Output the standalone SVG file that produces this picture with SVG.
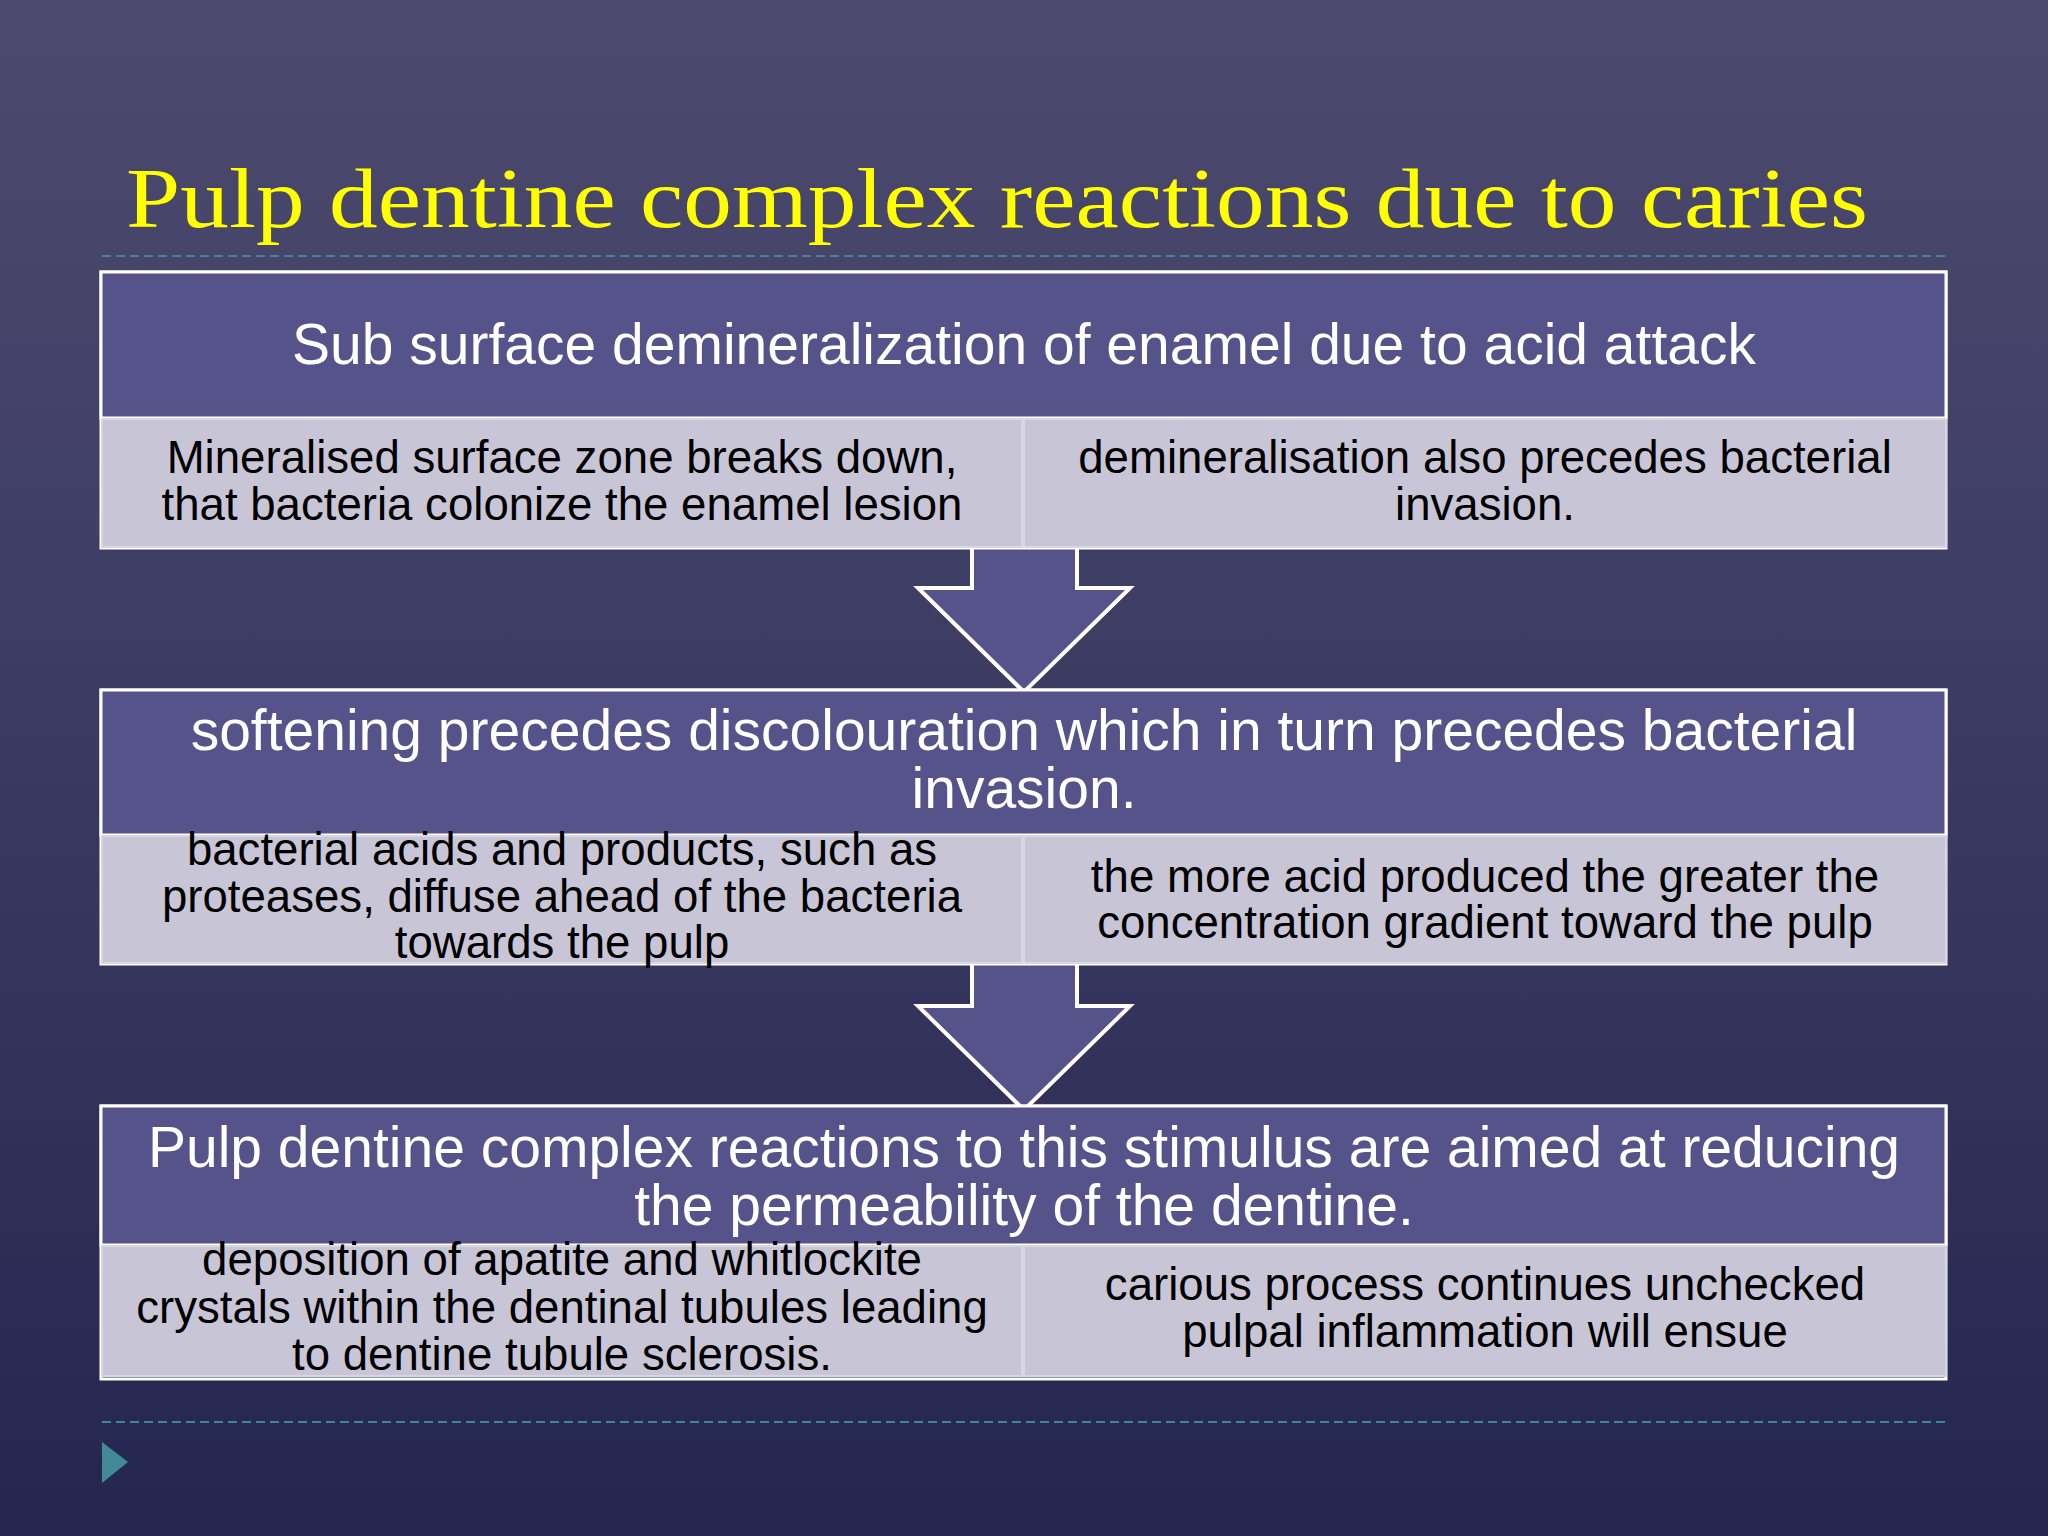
<svg xmlns="http://www.w3.org/2000/svg" width="2048" height="1536" viewBox="0 0 2048 1536">
  <defs>
    <linearGradient id="bg" x1="0" y1="0" x2="0" y2="1">
      <stop offset="0" stop-color="#4C4A6E"/>
      <stop offset="0.45" stop-color="#3C3B62"/>
      <stop offset="1" stop-color="#252650"/>
    </linearGradient>
    <style>
      .title{font-family:"Liberation Serif","Times New Roman",serif;font-size:84px;fill:#FFFF00}
      .dash{stroke:#3F8796;stroke-width:2;stroke-dasharray:9 5;fill:none}
      .outer{fill:none;stroke:#FFFFFF;stroke-width:3}
      .hdr{fill:#56528A;stroke:#FFFFFF;stroke-width:3}
      .cell{fill:#C8C6D6;stroke:#D8D6E3;stroke-width:2}
      .ht{font-family:"Liberation Sans",Arial,sans-serif;font-size:57px;fill:#FFFFFF;text-anchor:middle}
      .ct{font-family:"Liberation Sans",Arial,sans-serif;font-size:45.6px;fill:#000000;text-anchor:middle}
      .arrow{fill:#56528A;stroke:#FFFFFF;stroke-width:4;stroke-linejoin:miter}
    </style>
  </defs>
  <rect x="0" y="0" width="2048" height="1536" fill="url(#bg)"/>

  <text class="title" x="126" y="227" textLength="1742" lengthAdjust="spacingAndGlyphs">Pulp dentine complex reactions due to caries</text>
  <line class="dash" x1="102" y1="256" x2="1946" y2="256"/>
  <line class="dash" x1="102" y1="1422" x2="1946" y2="1422"/>
  <polygon points="102,1442 128,1462 102,1483" fill="#418A96"/>

  <g id="connectors">
    <polygon class="arrow" points="972,540 1077,540 1077,588 1130,588 1024,692 918,588 972,588"/>
    <polygon class="arrow" points="972,958 1077,958 1077,1006 1130,1006 1024,1110 918,1006 972,1006"/>
  </g>

  <g id="box1">
    <rect class="outer" x="101" y="272" width="1845" height="276"/>
    <rect class="hdr" x="101" y="272" width="1845" height="146"/>
    <rect class="cell" x="102" y="419" width="920" height="128"/>
    <rect class="cell" x="1024" y="419" width="922" height="128"/>
    <text class="ht" x="1024" y="364">Sub surface demineralization of enamel due to acid attack</text>
    <text class="ct" x="562" y="473">Mineralised surface zone breaks down,</text>
    <text class="ct" x="562" y="520">that bacteria colonize the enamel lesion</text>
    <text class="ct" x="1485" y="473">demineralisation also precedes bacterial</text>
    <text class="ct" x="1485" y="520">invasion.</text>
  </g>

  <g id="box2">
    <rect class="outer" x="101" y="690" width="1845" height="274"/>
    <rect class="hdr" x="101" y="690" width="1845" height="145"/>
    <rect class="cell" x="102" y="836" width="920" height="127"/>
    <rect class="cell" x="1024" y="836" width="922" height="127"/>
    <text class="ht" x="1024" y="750">softening precedes discolouration which in turn precedes bacterial</text>
    <text class="ht" x="1024" y="808">invasion.</text>
    <text class="ct" x="562" y="865">bacterial acids and products, such as</text>
    <text class="ct" x="562" y="912">proteases, diffuse ahead of the bacteria</text>
    <text class="ct" x="562" y="958">towards the pulp</text>
    <text class="ct" x="1485" y="892">the more acid produced the greater the</text>
    <text class="ct" x="1485" y="938">concentration gradient toward the pulp</text>
  </g>

  <g id="box3">
    <rect class="outer" x="101" y="1106" width="1845" height="273"/>
    <rect class="hdr" x="101" y="1106" width="1845" height="139"/>
    <rect class="cell" x="102" y="1246" width="920" height="130"/>
    <rect class="cell" x="1024" y="1246" width="922" height="130"/>
    <text class="ht" x="1024" y="1167">Pulp dentine complex reactions to this stimulus are aimed at reducing</text>
    <text class="ht" x="1024" y="1225">the permeability of the dentine.</text>
    <text class="ct" x="562" y="1275">deposition of apatite and whitlockite</text>
    <text class="ct" x="562" y="1323">crystals within the dentinal tubules leading</text>
    <text class="ct" x="562" y="1370">to dentine tubule sclerosis.</text>
    <text class="ct" x="1485" y="1300">carious process continues unchecked</text>
    <text class="ct" x="1485" y="1347">pulpal inflammation will ensue</text>
  </g>
</svg>
